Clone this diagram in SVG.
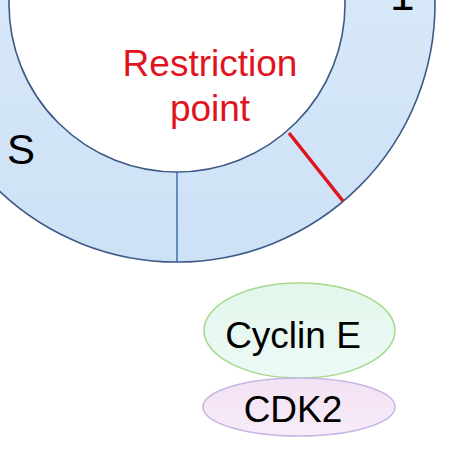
<svg xmlns="http://www.w3.org/2000/svg" width="474" height="474" viewBox="0 0 474 474">
<style>
.ring{fill:url(#rg);stroke:#3d5a86;stroke-width:1.6}
.lbl{font-family:"Liberation Sans",Arial,sans-serif;text-anchor:middle}
</style>
<defs>
<linearGradient id="rg" x1="0" y1="0" x2="0" y2="1">
<stop offset="0" stop-color="#e0eefb"/>
<stop offset="1" stop-color="#cde1f6"/>
</linearGradient>
<linearGradient id="gE" x1="0" y1="0" x2="0" y2="1">
<stop offset="0" stop-color="#e2f6ea"/>
<stop offset="1" stop-color="#ecfaf6"/>
</linearGradient>
<linearGradient id="gC" x1="0" y1="0" x2="0" y2="1">
<stop offset="0" stop-color="#f2e2f4"/>
<stop offset="1" stop-color="#f8ecf8"/>
</linearGradient>
</defs>
<rect width="474" height="474" fill="#ffffff"/>
<g id="cycle">
<path class="ring" fill-rule="evenodd" d="M435,4 A258,258 0 1,1 -81,4 A258,258 0 1,1 435,4 Z M345,4 A168,168 0 1,0 9,4 A168,168 0 1,0 345,4 Z"/>
<line x1="177" y1="172" x2="177" y2="262" stroke="#3a64ac" stroke-width="1.4"/>
<line x1="289" y1="133" x2="343" y2="201" stroke="#e0141e" stroke-width="3.5"/>
<text class="lbl" x="210" y="76" font-size="37" fill="#e0141e">Restriction</text>
<text class="lbl" x="210" y="121" font-size="37" fill="#e0141e">point</text>
<text x="7" y="164" font-family="Liberation Sans,Arial,sans-serif" font-size="42" fill="#000">S</text>
<text x="390" y="10" font-family="Liberation Sans,Arial,sans-serif" font-size="44" fill="#000">1</text>
</g>
<g id="cyclinE">
<ellipse cx="299.5" cy="330.5" rx="95.5" ry="47.5" fill="url(#gE)" stroke="#a6d88c" stroke-width="1.5"/>
<text class="lbl" x="293" y="348" font-size="37" fill="#000">Cyclin E</text>
</g>
<g id="cdk2">
<ellipse cx="299" cy="407" rx="96" ry="29" fill="url(#gC)" stroke="#c6b6e6" stroke-width="1.5"/>
<text class="lbl" x="293" y="422" font-size="37" fill="#000">CDK2</text>
</g>
<g id="connectors"></g>
</svg>
